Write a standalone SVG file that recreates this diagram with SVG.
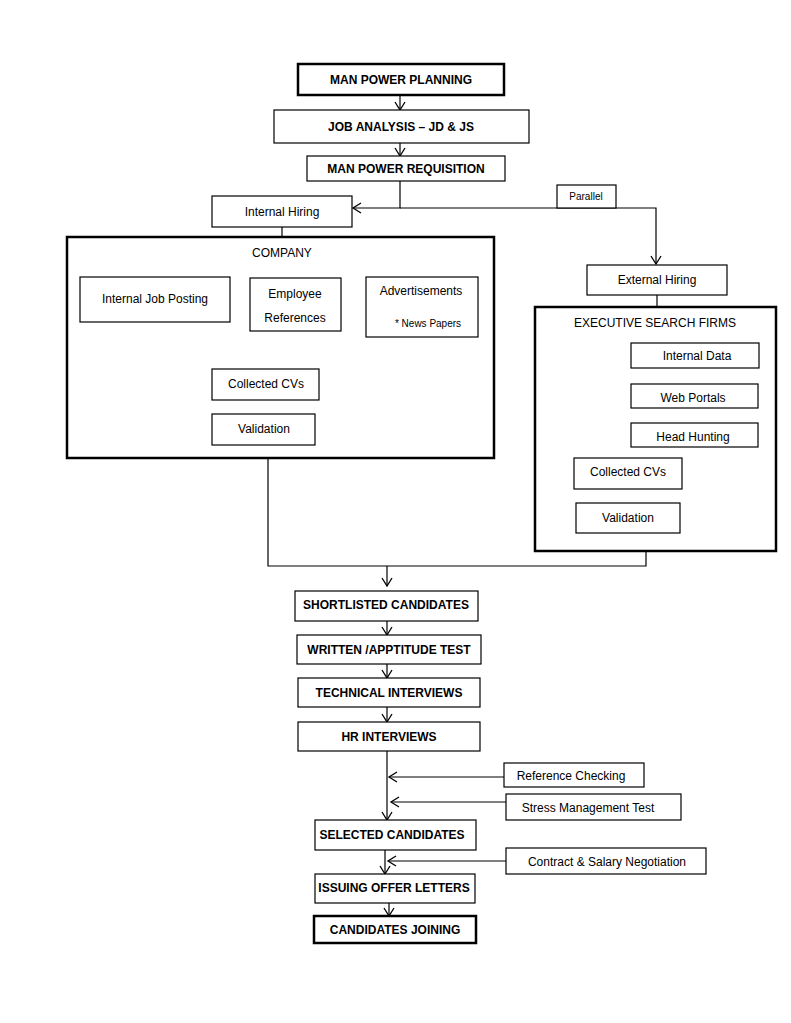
<svg xmlns="http://www.w3.org/2000/svg" width="791" height="1023" viewBox="0 0 791 1023">
<defs>
<style>
rect{fill:#fff;stroke:#000;stroke-width:1.2}
rect.thick{stroke-width:2.5}
text{font-family:"Liberation Sans","DejaVu Sans",sans-serif;font-size:12px;fill:#000;text-anchor:middle}
text.b{font-weight:bold}
#connectors path{fill:none;stroke:#000;stroke-width:1.2}
</style>
<marker id="a" markerWidth="12" markerHeight="12" refX="10" refY="6" orient="auto" markerUnits="userSpaceOnUse">
<polyline points="2,1 10,6 2,11" fill="none" stroke="#000" stroke-width="1.3"/>
</marker>
</defs>
<rect width="791" height="1023" style="fill:#fff;stroke:none"/>
<g id="connectors">
<path d="M400 95V110" marker-end="url(#a)"/>
<path d="M400 143V156" marker-end="url(#a)"/>
<path d="M400 181V208H353" marker-end="url(#a)"/>
<path d="M400 208H656V264" marker-end="url(#a)"/>
<path d="M282 227V237"/>
<path d="M657 295V307"/>
<path d="M148 322V355H425V337"/>
<path d="M292 331V355"/>
<path d="M260 355V362"/>
<path d="M260 400V413" marker-end="url(#a)"/>
<path d="M268 458V566H646V551"/>
<path d="M387 566V586" marker-end="url(#a)"/>
<path d="M631 355H605"  marker-end="url(#a)"/>
<path d="M631 396H605" marker-end="url(#a)"/>
<path d="M631 435H605" marker-end="url(#a)"/>
<path d="M603 355V457" marker-end="url(#a)"/>
<path d="M623 489V502" marker-end="url(#a)"/>
<path d="M387 621V635" marker-end="url(#a)"/>
<path d="M387 664V678" marker-end="url(#a)"/>
<path d="M387 707V722" marker-end="url(#a)"/>
<path d="M387 751V820" marker-end="url(#a)"/>
<path d="M504 777H389" marker-end="url(#a)"/>
<path d="M506 802H391" marker-end="url(#a)"/>
<path d="M385 850V874" marker-end="url(#a)"/>
<path d="M506 861H388" marker-end="url(#a)"/>
<path d="M389 903V916" marker-end="url(#a)"/>
</g>
<g id="n1"><rect class="thick" x="298" y="64" width="206" height="31"/><text class="b" x="401" y="84">MAN POWER PLANNING</text></g>
<g id="n2"><rect x="274" y="110" width="255" height="33"/><text class="b" x="401" y="131">JOB ANALYSIS – JD &amp; JS</text></g>
<g id="n3"><rect x="307" y="156" width="198" height="25"/><text class="b" x="406" y="173">MAN POWER REQUISITION</text></g>
<g id="n4"><rect x="212" y="196" width="140" height="31"/><text x="282" y="216">Internal Hiring</text></g>
<g id="n5"><rect x="557" y="185" width="59" height="23"/><text x="586" y="200" style="font-size:10px">Parallel</text></g>
<g id="company"><rect class="thick" x="67" y="237" width="427" height="221"/><text x="282" y="257">COMPANY</text></g>
<g id="n6"><rect x="80" y="277" width="150" height="45"/><text x="155" y="303">Internal  Job Posting</text></g>
<g id="n7"><rect x="250" y="278" width="91" height="53"/><text x="295" y="298">Employee</text><text x="295" y="322">References</text></g>
<g id="n8"><rect x="366" y="277" width="112" height="60"/><text x="421" y="295">Advertisements</text><text x="428" y="327" style="font-size:10px">* News Papers</text></g>
<g id="n9"><rect x="212" y="369" width="107" height="31"/><text x="266" y="388">Collected CVs</text></g>
<g id="n10"><rect x="212" y="414" width="103" height="31"/><text x="264" y="433">Validation</text></g>
<g id="n11"><rect x="587" y="265" width="140" height="30"/><text x="657" y="284">External Hiring</text></g>
<g id="esf"><rect class="thick" x="535" y="307" width="241" height="244"/><text x="655" y="327">EXECUTIVE SEARCH FIRMS</text></g>
<g id="n12"><rect x="631" y="343" width="128" height="25"/><text x="697" y="360">Internal Data</text></g>
<g id="n13"><rect x="631" y="384" width="127" height="24"/><text x="693" y="402">Web Portals</text></g>
<g id="n14"><rect x="631" y="423" width="127" height="24"/><text x="693" y="441">Head Hunting</text></g>
<g id="n15"><rect x="574" y="458" width="108" height="31"/><text x="628" y="476">Collected CVs</text></g>
<g id="n16"><rect x="576" y="503" width="104" height="30"/><text x="628" y="522">Validation</text></g>
<g id="n17"><rect x="295" y="591" width="183" height="30"/><text class="b" x="386" y="609">SHORTLISTED CANDIDATES</text></g>
<g id="n18"><rect x="297" y="635" width="184" height="29"/><text class="b" x="389" y="654">WRITTEN /APPTITUDE TEST</text></g>
<g id="n19"><rect x="298" y="678" width="182" height="29"/><text class="b" x="389" y="697">TECHNICAL INTERVIEWS</text></g>
<g id="n20"><rect x="298" y="722" width="182" height="29"/><text class="b" x="389" y="741">HR INTERVIEWS</text></g>
<g id="n21"><rect x="504" y="763" width="140" height="24"/><text x="571" y="780">Reference Checking</text></g>
<g id="n22"><rect x="506" y="794" width="175" height="26"/><text x="588" y="812">Stress Management Test</text></g>
<g id="n23"><rect x="315" y="820" width="161" height="30"/><text class="b" x="392" y="839">SELECTED CANDIDATES</text></g>
<g id="n24"><rect x="506" y="848" width="200" height="26"/><text x="607" y="866">Contract &amp; Salary Negotiation</text></g>
<g id="n25"><rect x="315" y="874" width="160" height="29"/><text class="b" x="394" y="892">ISSUING OFFER LETTERS</text></g>
<g id="n26"><rect class="thick" x="314" y="916" width="162" height="27"/><text class="b" x="395" y="934">CANDIDATES JOINING</text></g>
</svg>
